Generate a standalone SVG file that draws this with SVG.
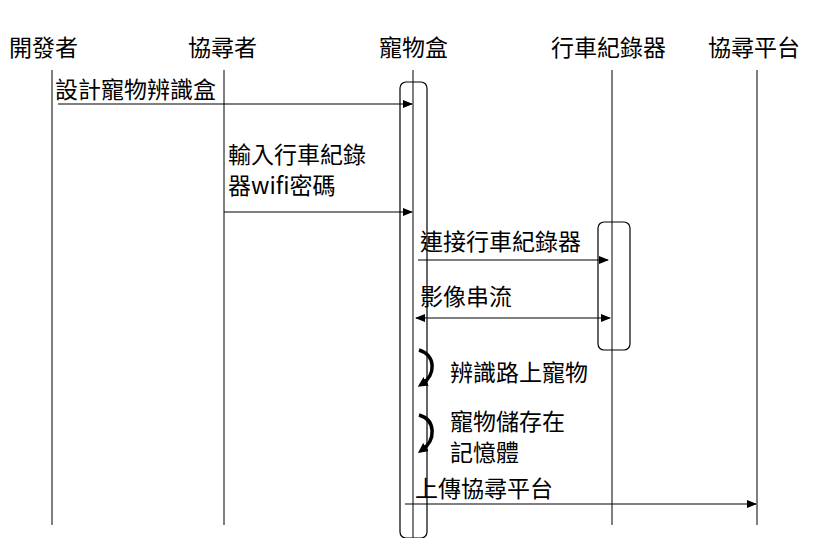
<svg xmlns="http://www.w3.org/2000/svg" width="820" height="538" viewBox="0 0 820 538">
<style>
text{font-family:"Noto Sans CJK TC","Liberation Sans",sans-serif;font-size:23px;fill:#000}
.l{stroke:#000;stroke-width:1;fill:none}
.a{stroke:#000;stroke-width:1.2;fill:none;marker-end:url(#ah)}
.c{stroke:#000;stroke-width:3.5;fill:none}
</style>
<defs>
<marker id="ah" markerWidth="10" markerHeight="8" refX="9" refY="4" orient="auto" markerUnits="userSpaceOnUse"><path d="M0,0 L10,4 L0,8 z" fill="#000"/></marker>
<marker id="as" markerWidth="10" markerHeight="8" refX="1" refY="4" orient="auto" markerUnits="userSpaceOnUse"><path d="M10,0 L0,4 L10,8 z" fill="#000"/></marker>
<marker id="cv" markerWidth="10" markerHeight="10" refX="5" refY="5" orient="auto" markerUnits="userSpaceOnUse"><path d="M0,0 L10,5 L0,10 z" fill="#000"/></marker>
</defs>
<g id="dev"><text x="9" y="56">開發者</text><line class="l" x1="52" y1="70" x2="52" y2="525"/></g>
<g id="helper"><text x="188" y="56">協尋者</text><line class="l" x1="224" y1="70" x2="224" y2="525"/></g>
<g id="petbox"><text x="379" y="56">寵物盒</text><line class="l" x1="413" y1="70" x2="413" y2="538"/><rect x="400" y="82" width="27" height="456" rx="6" fill="none" stroke="#000" stroke-width="1.2"/></g>
<g id="recorder"><text x="551" y="56">行車紀錄器</text><line class="l" x1="612" y1="70" x2="612" y2="525"/><rect x="598" y="222" width="32" height="128" rx="6" fill="none" stroke="#000" stroke-width="1.2"/></g>
<g id="platform"><text x="708" y="56">協尋平台</text><line class="l" x1="757" y1="70" x2="757" y2="525"/></g>
<g id="connectors">
<line class="a" x1="58" y1="104" x2="412" y2="104"/>
<line class="a" x1="224" y1="212" x2="412" y2="212"/>
<line class="a" x1="418" y1="260" x2="608" y2="260"/>
<line class="a" x1="416" y1="318" x2="610" y2="318" marker-start="url(#as)"/>
<path class="c" d="M419,350 C436,355 436,375 422,384" marker-end="url(#cv)"/>
<path class="c" d="M419,415 C436,420 436,440 422,450" marker-end="url(#cv)"/>
<line class="a" x1="405" y1="504" x2="756" y2="504"/>
</g>
<g id="labels">
<text x="55" y="98">設計寵物辨識盒</text>
<text x="228" y="163">輸入行車紀錄</text>
<text x="228" y="194">器wifi密碼</text>
<text x="420" y="250">連接行車紀錄器</text>
<text x="420" y="305">影像串流</text>
<text x="450" y="381">辨識路上寵物</text>
<text x="450" y="430">寵物儲存在</text>
<text x="450" y="461">記憶體</text>
<text x="415" y="497">上傳協尋平台</text>
</g>
</svg>
